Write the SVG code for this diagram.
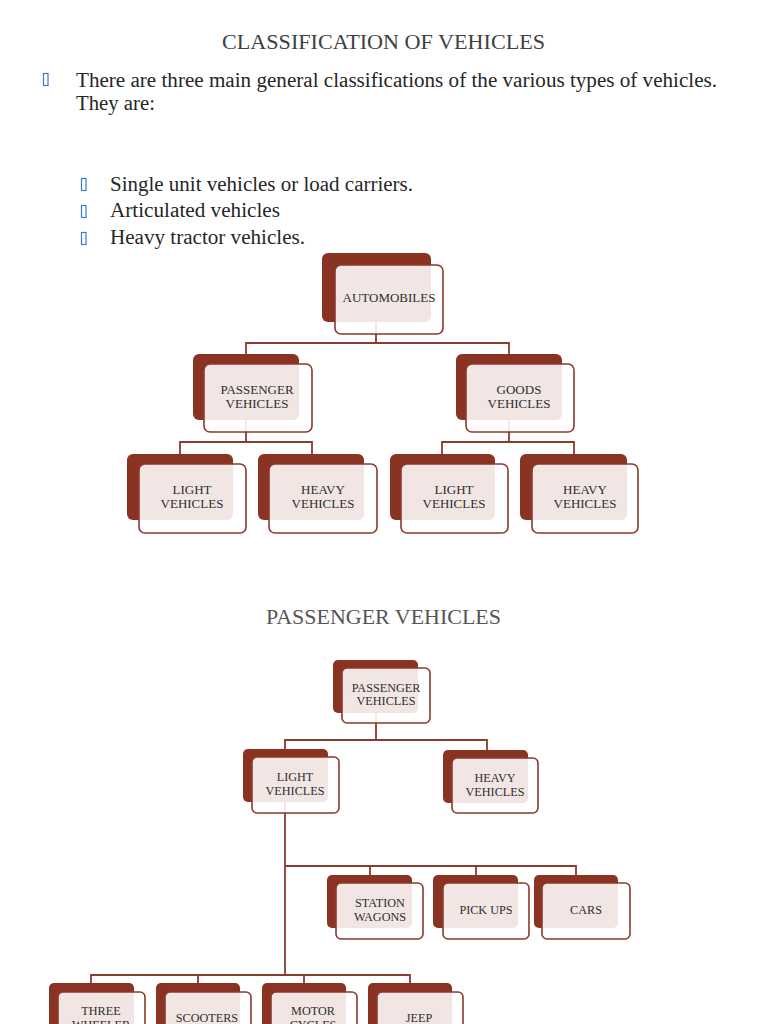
<svg xmlns="http://www.w3.org/2000/svg" width="768" height="1024" viewBox="0 0 768 1024">
<style>
.bg{fill:#ffffff}
.title{font-family:"Liberation Serif",serif;font-size:21px;fill:#404040}
.body{font-family:"Liberation Serif",serif;font-size:20px;fill:#262626}
.bul{fill:none;stroke:#3b78d8;stroke-width:1.2}
.back{fill:#8b3322}
.front{fill:#ffffff;fill-opacity:0.88;stroke:#8b3a2e;stroke-width:1.6}
.lbl{font-family:"Liberation Serif",serif;font-size:13px;fill:#2e2e2e;text-anchor:middle}
.lbl2{font-family:"Liberation Serif",serif;font-size:12.2px;fill:#2e2e2e;text-anchor:middle}
.conn{fill:none;stroke:#8b3a2e;stroke-width:1.8}
</style>
<rect class="bg" x="0" y="0" width="768" height="1024"/>
<g id="texts">
<text class="title" x="222" y="49" textLength="323" lengthAdjust="spacingAndGlyphs">CLASSIFICATION OF VEHICLES</text>
<rect class="bul" x="43.5" y="73.5" width="4.5" height="12"/>
<text class="body" x="76" y="87" textLength="641" lengthAdjust="spacingAndGlyphs">There are three main general classifications  of the various types of vehicles.</text>
<text class="body" x="76" y="110" textLength="79" lengthAdjust="spacingAndGlyphs">They are:</text>
<rect class="bul" x="81.5" y="178.5" width="4.5" height="12"/>
<text class="body" x="110" y="191" textLength="303" lengthAdjust="spacingAndGlyphs">Single unit vehicles or load carriers.</text>
<rect class="bul" x="81.5" y="205.5" width="4.5" height="12"/>
<text class="body" x="110" y="217" textLength="170" lengthAdjust="spacingAndGlyphs">Articulated vehicles</text>
<rect class="bul" x="81.5" y="232.5" width="4.5" height="12"/>
<text class="body" x="110" y="244" textLength="195" lengthAdjust="spacingAndGlyphs">Heavy tractor vehicles.</text>
<text class="title" x="266" y="624" textLength="235" lengthAdjust="spacingAndGlyphs" style="fill:#555">PASSENGER VEHICLES</text>
</g>
<g id="connectors">
<path class="conn" d="M376 322V343M246 343H509M246 342V354M509 342V354"/>
<path class="conn" d="M246 420V442M180 442H312M180 441V454M312 441V454"/>
<path class="conn" d="M509 420V442M442 442H574M442 441V454M574 441V454"/>
<path class="conn" d="M376 713V740M285 740H487M285 739V749M487 739V750"/>
<path class="conn" d="M285 802V975M285 866H576M370 865V875M476 865V875M576 865V875"/>
<path class="conn" d="M91 975H410M91 974V983M198 974V983M304 974V983M410 974V983"/>
</g>
<g id="n-automobiles"><rect class="back" x="322" y="253" width="109" height="69" rx="6"/><rect class="front" x="335" y="265" width="108" height="69" rx="6"/><text class="lbl" x="389" y="302">AUTOMOBILES</text></g>
<g id="n-passenger"><rect class="back" x="193" y="354" width="106" height="66" rx="6"/><rect class="front" x="204" y="364" width="108" height="68" rx="6"/><text class="lbl" x="257" y="394">PASSENGER</text><text class="lbl" x="257" y="408">VEHICLES</text></g>
<g id="n-goods"><rect class="back" x="456" y="354" width="106" height="66" rx="6"/><rect class="front" x="466" y="364" width="108" height="68" rx="6"/><text class="lbl" x="519" y="394">GOODS</text><text class="lbl" x="519" y="408">VEHICLES</text></g>
<g id="n-light1"><rect class="back" x="127" y="454" width="106" height="66" rx="6"/><rect class="front" x="139" y="464" width="107" height="69" rx="6"/><text class="lbl" x="192" y="494">LIGHT</text><text class="lbl" x="192" y="508">VEHICLES</text></g>
<g id="n-heavy1"><rect class="back" x="258" y="454" width="106" height="66" rx="6"/><rect class="front" x="269" y="464" width="108" height="69" rx="6"/><text class="lbl" x="323" y="494">HEAVY</text><text class="lbl" x="323" y="508">VEHICLES</text></g>
<g id="n-light2"><rect class="back" x="390" y="454" width="105" height="66" rx="6"/><rect class="front" x="401" y="464" width="107" height="69" rx="6"/><text class="lbl" x="454" y="494">LIGHT</text><text class="lbl" x="454" y="508">VEHICLES</text></g>
<g id="n-heavy2"><rect class="back" x="520" y="454" width="107" height="66" rx="6"/><rect class="front" x="532" y="464" width="106" height="69" rx="6"/><text class="lbl" x="585" y="494">HEAVY</text><text class="lbl" x="585" y="508">VEHICLES</text></g>
<g id="n-pv2"><rect class="back" x="333" y="660" width="85" height="53" rx="5"/><rect class="front" x="342" y="668" width="88" height="55" rx="5"/><text class="lbl2" x="386" y="692">PASSENGER</text><text class="lbl2" x="386" y="705">VEHICLES</text></g>
<g id="n-lightp"><rect class="back" x="243" y="749" width="85" height="53" rx="5"/><rect class="front" x="252" y="757" width="87" height="56" rx="5"/><text class="lbl2" x="295" y="781">LIGHT</text><text class="lbl2" x="295" y="795">VEHICLES</text></g>
<g id="n-heavyp"><rect class="back" x="443" y="750" width="85" height="53" rx="5"/><rect class="front" x="452" y="758" width="86" height="55" rx="5"/><text class="lbl2" x="495" y="782">HEAVY</text><text class="lbl2" x="495" y="796">VEHICLES</text></g>
<g id="n-station"><rect class="back" x="327" y="875" width="85" height="53" rx="5"/><rect class="front" x="336" y="883" width="87" height="56" rx="5"/><text class="lbl2" x="380" y="907">STATION</text><text class="lbl2" x="380" y="921">WAGONS</text></g>
<g id="n-pickups"><rect class="back" x="433" y="875" width="85" height="53" rx="5"/><rect class="front" x="443" y="883" width="86" height="56" rx="5"/><text class="lbl2" x="486" y="914">PICK UPS</text></g>
<g id="n-cars"><rect class="back" x="534" y="875" width="84" height="53" rx="5"/><rect class="front" x="542" y="883" width="88" height="56" rx="5"/><text class="lbl2" x="586" y="914">CARS</text></g>
<g id="n-three"><rect class="back" x="49" y="983" width="85" height="53" rx="5"/><rect class="front" x="58" y="992" width="87" height="55" rx="5"/><text class="lbl2" x="101" y="1015">THREE</text><text class="lbl2" x="101" y="1029">WHEELER</text></g>
<g id="n-scooters"><rect class="back" x="156" y="983" width="84" height="53" rx="5"/><rect class="front" x="165" y="992" width="86" height="55" rx="5"/><text class="lbl2" x="207" y="1022">SCOOTERS</text></g>
<g id="n-motor"><rect class="back" x="262" y="983" width="84" height="53" rx="5"/><rect class="front" x="271" y="992" width="86" height="55" rx="5"/><text class="lbl2" x="313" y="1015">MOTOR</text><text class="lbl2" x="313" y="1029">CYCLES</text></g>
<g id="n-jeep"><rect class="back" x="368" y="983" width="84" height="53" rx="5"/><rect class="front" x="377" y="992" width="86" height="55" rx="5"/><text class="lbl2" x="419" y="1022">JEEP</text></g>
</svg>
